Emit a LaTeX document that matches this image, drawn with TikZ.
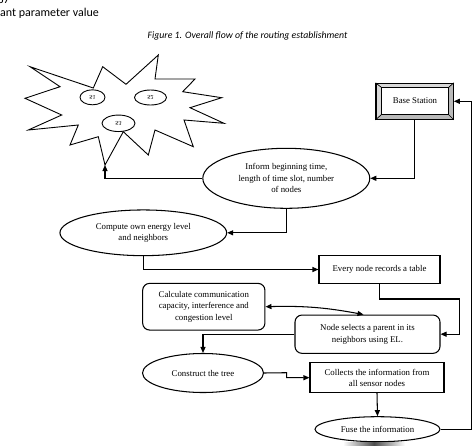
\documentclass[tikz,border=0pt]{standalone}
\usepackage{fontspec}
\setmainfont{Liberation Serif}
\newfontfamily\calfont{Carlito}
\usetikzlibrary{shapes.geometric,arrows.meta,calc}
\begin{document}
\begin{tikzpicture}[x=1pt,y=-1pt,
  every node/.style={font=\fontsize{8.8}{11.5}\selectfont, align=center, inner sep=0pt},
  arr/.style={line width=1.05pt,-{Triangle[length=6pt,width=5pt]}},
  darr/.style={line width=1.05pt,{Triangle[length=6pt,width=5pt]}-{Triangle[length=6pt,width=5pt]}},
  oval/.style={ellipse, draw, line width=1.05pt},
  rbox/.style={rectangle, draw, line width=1.05pt, rounded corners=7pt},
  sbox/.style={rectangle, draw, line width=1.05pt},
  snode/.style={ellipse, draw, fill=white, line width=0.9pt, font=\fontsize{6}{6}\selectfont},
  headtext/.style={font=\calfont\fontsize{12}{14}\selectfont, anchor=base west},
  captext/.style={font=\calfont\itshape\fontsize{9.8}{12}\selectfont}
]
\useasboundingbox (0,0) rectangle (474,445);

% page fragments and caption
\node[headtext, anchor=base east] (pg) at (10,3) {87};
\node[headtext] (ant) at (0,16.5) {ant parameter value};
\node[captext] (caption) at (247.5,36) {Figure 1. Overall flow of the routing establishment};

% star (sensor field)
\draw[line width=0.9pt] (30,66.7) -- (93.3,88) -- (102.7,66.7) -- (126,84.3) -- (158.3,55) -- (155,79)
  -- (195,79) -- (182.7,91.7) -- (221.7,97.7) -- (190,107.7) -- (224,123.3) -- (184,120)
  -- (193.3,146.7) -- (155,130) -- (148.3,155) -- (123.3,131.7) -- (105,165) -- (98.3,136.7)
  -- (70,145) -- (78.3,125) -- (28.3,130) -- (61.7,115) -- (25,98.3) -- (60,86.7) -- cycle;
\coordinate (tip) at (105,165);
\node[snode, minimum width=25pt, minimum height=15pt] (s1) at (92.5,97.3) {\scalebox{1}[-1]{S1}};
\node[snode, minimum width=32pt, minimum height=15pt] (s2) at (150.5,97.5) {\scalebox{1}[-1]{S2}};
\node[snode, minimum width=33pt, minimum height=16.5pt] (s3) at (118.5,123.3) {\scalebox{1}[-1]{S3}};

% base station (bevelled box)
\fill[gray!30] (376,83.3) rectangle (453.3,119.3);
\fill[gray!55] (453.3,83.3) -- (448.3,87.7) -- (448.3,114.3) -- (381.7,114.3) -- (376,119.3) -- (453.3,119.3) -- cycle;
\node[sbox, minimum width=77.3pt, minimum height=36pt] (bs) at (414.65,101.3) {};
\node[sbox, fill=white, line width=0.9pt, minimum width=66.6pt, minimum height=26.6pt] (bsin) at (415,101) {Base Station};
\draw[line width=0.7pt] (bs.north west) -- (bsin.north west) (bs.north east) -- (bsin.north east)
  (bs.south west) -- (bsin.south west) (bs.south east) -- (bsin.south east);

% flow nodes
\node[oval, minimum width=167pt, minimum height=60pt] (inform) at (286.3,178.3)
  {Inform beginning time,\\length of time slot, number\\of nodes};
\node[oval, minimum width=166.7pt, minimum height=45.7pt] (compute) at (143.3,232.8)
  {Compute own energy level\\and neighbors};
\node[sbox, minimum width=121pt, minimum height=27.7pt] (every) at (379.5,269.5)
  {Every node records a table};
\node[rbox, minimum width=122.3pt, minimum height=46.7pt] (calc) at (203.8,306.7)
  {Calculate communication\\capacity, interference and\\congestion level};
\node[rbox, minimum width=145pt, minimum height=38.3pt] (sel) at (367.5,334.2)
  {Node selects a parent in its\\neighbors using EL.};
\node[oval, minimum width=121pt, minimum height=39pt] (tree) at (203,373)
  {Construct the tree};
\node[sbox, minimum width=134pt, minimum height=30pt] (coll) at (377,377.7)
  {Collects the information from\\all sensor nodes};
\node[oval, minimum width=125pt, minimum height=25pt] (fuse) at (377.5,429.2)
  {Fuse the information};

% bottom shadow
\shade[left color=white, right color=white, middle color=black!70] (343,442.5) rectangle (405,445);

% connectors
\draw[arr] (bs.south) |- (inform.east);
\draw[arr] (inform.west) -| (tip);
\draw[arr] (inform.south) |- (compute.east);
\draw[arr] (compute.south) |- (every.west);
\draw[arr] (every.south) |- (459.3,299) |- (sel.east);
\draw[darr] (calc.east) to[bend left=6] ([xshift=-4pt]sel.north);
\draw[arr] (sel.west) -| (tree.north);
\draw[arr] (tree.east) -- (286.7,372.7) |- (coll.west);
\draw[arr] (coll.south) -- (fuse.north);
\draw[arr] (fuse.east) -- (471.7,429.2) |- (bs.east);
\end{tikzpicture}
\end{document}
